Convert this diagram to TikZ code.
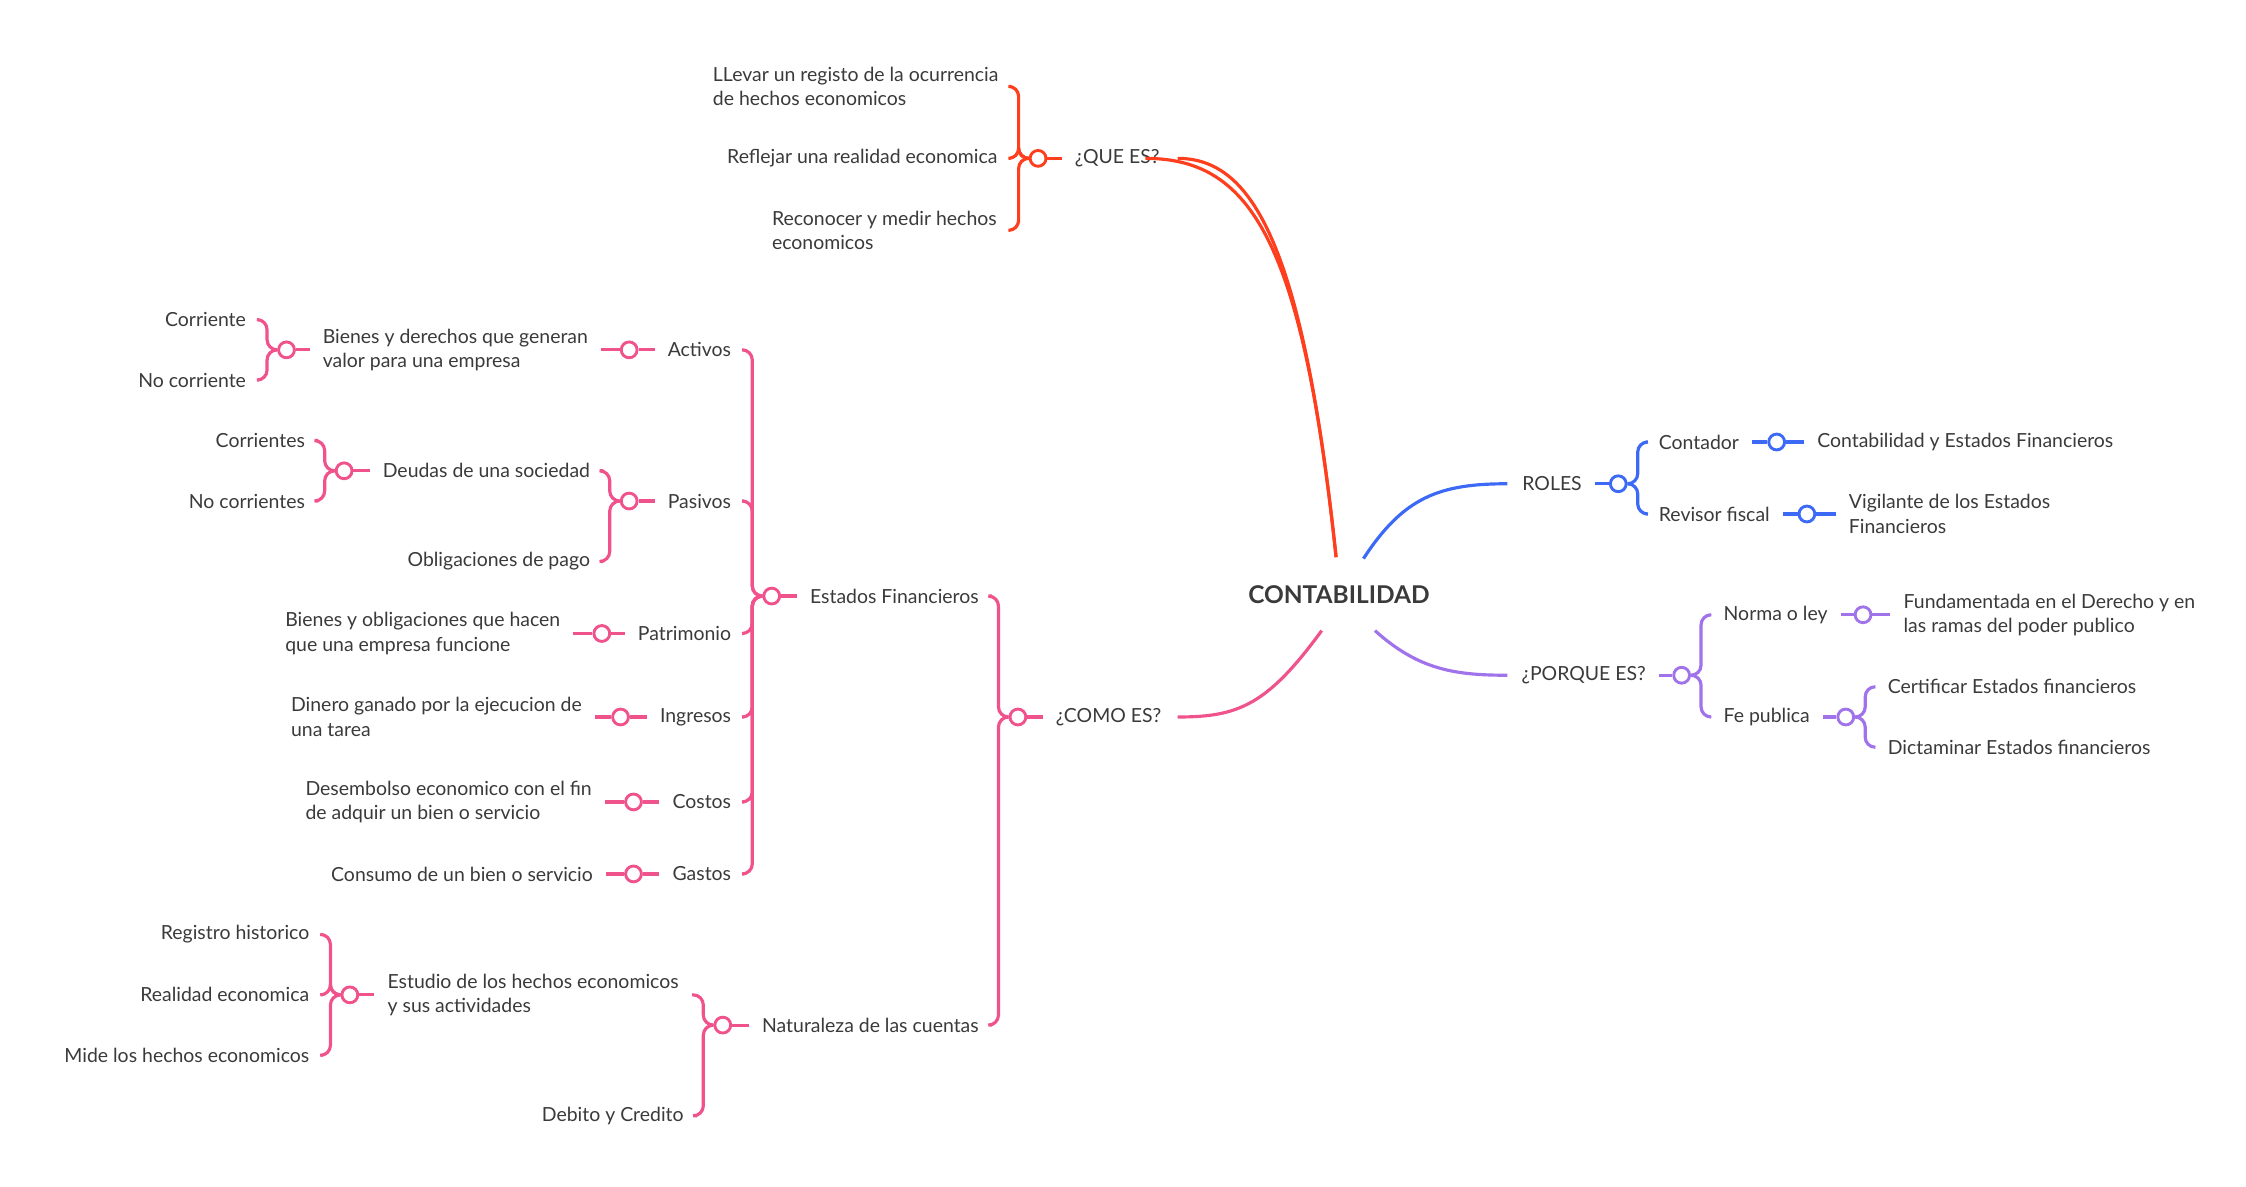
\documentclass[tikz,border=0pt]{standalone}
\usepackage{fontspec}
\setmainfont{Lato}
\definecolor{cr}{RGB}{255,62,30}
\definecolor{cp}{RGB}{240,82,140}
\definecolor{cb}{RGB}{60,105,245}
\definecolor{cu}{RGB}{160,115,235}
\definecolor{tx}{RGB}{58,58,58}
\newcommand\lbr[3]{\draw[#1,br] (#2.west) -- ++(-7,0) |- (#3.east);}
\newcommand\rbr[3]{\draw[#1,br] (#2.east) -- ++(7,0) |- (#3.west);}
\begin{document}
\begin{tikzpicture}[x=1pt,y=-1pt,
  t/.style={text=tx,inner sep=0pt,font=\fontsize{13.5}{17}\selectfont,align=left},
  L/.style={t,anchor=east},R/.style={t,anchor=west},
  dot/.style={circle,draw=#1,fill=white,line width=2pt,minimum size=11pt,inner sep=0pt},
  br/.style={line width=2.2pt,rounded corners=7pt,shorten >=9pt},
  ln/.style={draw=#1,line width=2.2pt},
  lk/.style={line width=2.2pt,shorten <=9pt}]
\useasboundingbox (0,0) rectangle (1560,824);
\node[t,font=\fontsize{17}{20}\selectfont\bfseries] (c) at (930,413) {CONTABILIDAD};
% red
\node[t] (qe) at (776,110) {¿QUE ES?};
\draw[ln=cr] (928,387) .. controls (905,170) and (870,110) .. ([xshift=-10]qe.east);
\draw[ln=cr] (928,387) .. controls (905,170) and (870,110) .. (818,110);
\node[dot=cr] (qc) at (721,110) {};
\draw[cr,lk] (qe.west) -- (qc.east);
\node[R] (q1) at (495,60) {LLevar un registo de la ocurrencia\\de hechos economicos};
\node[L] (q2) at (693,110) {Reflejar una realidad economica};
\node[R] (q3) at (536,160) {Reconocer y medir hechos\\economicos};
\foreach \c in {q1,q2,q3}{\lbr{cr}{qc}{\c}}
% blue
\node[t] (ro) at (1078,336) {ROLES};
\draw[ln=cb] (947,388) .. controls (975,345) and (1000,336) .. (1047,336);
\node[dot=cb] (rc) at (1124,336) {};
\draw[cb,lk] (ro.east) -- (rc.west);
\node[R] (r1) at (1152,307) {Contador};
\node[R] (r2) at (1152,357) {Revisor fiscal};
\foreach \c in {r1,r2}{\rbr{cb}{rc}{\c}}
\node[dot=cb] (r1c) at (1234,307) {};
\node[R] (r1a) at (1262,307) {Contabilidad y Estados Financieros};
\draw[cb,lk] (r1.east) -- (r1c.west); \draw[cb,lk,shorten <=0pt,shorten >=9pt] (r1c.east) -- (r1a.west);
\node[dot=cb] (r2c) at (1255,357) {};
\node[R] (r2a) at (1284,357) {Vigilante de los Estados\\Financieros};
\draw[cb,lk] (r2.east) -- (r2c.west); \draw[cb,lk,shorten <=0pt,shorten >=9pt] (r2c.east) -- (r2a.west);
% purple
\node[t] (pq) at (1100,469) {¿PORQUE ES?};
\draw[ln=cu] (955,438) .. controls (985,465) and (1010,469) .. (1047,469);
\node[dot=cu] (pc) at (1168,469) {};
\draw[cu,lk] (pq.east) -- (pc.west);
\node[R] (p1) at (1197,427) {Norma o ley};
\node[R] (p2) at (1197,498) {Fe publica};
\foreach \c in {p1,p2}{\rbr{cu}{pc}{\c}}
\node[dot=cu] (p1c) at (1294,427) {};
\node[R] (p1a) at (1322,427) {Fundamentada en el Derecho y en\\las ramas del poder publico};
\draw[cu,lk] (p1.east) -- (p1c.west); \draw[cu,lk,shorten <=0pt,shorten >=9pt] (p1c.east) -- (p1a.west);
\node[dot=cu] (p2c) at (1282,498) {};
\draw[cu,lk] (p2.east) -- (p2c.west);
\node[R] (p2a) at (1311,477) {Certificar Estados financieros};
\node[R] (p2b) at (1311,519) {Dictaminar Estados financieros};
\foreach \c in {p2a,p2b}{\rbr{cu}{p2c}{\c}}
% pink
\node[t] (co) at (770,498) {¿COMO ES?};
\draw[ln=cp] (918,438) .. controls (880,490) and (860,498) .. (818,498);
\node[dot=cp] (cc) at (707,498) {};
\draw[cp,lk] (co.west) -- (cc.east);
\node[L] (ef) at (680,414) {Estados Financieros};
\node[L] (na) at (680,712) {Naturaleza de las cuentas};
\foreach \c in {ef,na}{\lbr{cp}{cc}{\c}}
\node[dot=cp] (efc) at (536,414) {};
\draw[cp,lk] (ef.west) -- (efc.east);
\node[L] (a1) at (508,243) {Activos};
\node[L] (a2) at (508,348) {Pasivos};
\node[L] (a3) at (508,440) {Patrimonio};
\node[L] (a4) at (508,498) {Ingresos};
\node[L] (a5) at (508,557) {Costos};
\node[L] (a6) at (508,607) {Gastos};
\foreach \c in {a1,a2,a3,a4,a5,a6}{\lbr{cp}{efc}{\c}}
% activos
\node[dot=cp] (a1c) at (437,243) {};
\node[R] (a1a) at (224,243) {Bienes y derechos que generan\\valor para una empresa};
\draw[cp,lk] (a1.west) -- (a1c.east); \draw[cp,lk,shorten <=0pt,shorten >=9pt] (a1c.west) -- (a1a.east);
\node[dot=cp] (a1ac) at (199,243) {};
\draw[cp,lk] (a1a.west) -- (a1ac.east);
\node[L] (a1x) at (171,222) {Corriente};
\node[L] (a1y) at (171,264) {No corriente};
\foreach \c in {a1x,a1y}{\lbr{cp}{a1ac}{\c}}
% pasivos
\node[dot=cp] (a2c) at (437,348) {};
\draw[cp,lk] (a2.west) -- (a2c.east);
\node[L] (a2a) at (410,327) {Deudas de una sociedad};
\node[L] (a2b) at (410,390) {Obligaciones de pago};
\foreach \c in {a2a,a2b}{\lbr{cp}{a2c}{\c}}
\node[dot=cp] (a2ac) at (239,327) {};
\draw[cp,lk] (a2a.west) -- (a2ac.east);
\node[L] (a2x) at (212,306) {Corrientes};
\node[L] (a2y) at (212,348) {No corrientes};
\foreach \c in {a2x,a2y}{\lbr{cp}{a2ac}{\c}}
% others
\node[dot=cp] (a3c) at (418,440) {};
\node[R] (a3a) at (198,440) {Bienes y obligaciones que hacen\\que una empresa funcione};
\draw[cp,lk] (a3.west) -- (a3c.east); \draw[cp,lk,shorten <=0pt,shorten >=9pt] (a3c.west) -- (a3a.east);
\node[dot=cp] (a4c) at (431,498) {};
\node[R] (a4a) at (202,498) {Dinero ganado por la ejecucion de\\una tarea};
\draw[cp,lk] (a4.west) -- (a4c.east); \draw[cp,lk,shorten <=0pt,shorten >=9pt] (a4c.west) -- (a4a.east);
\node[dot=cp] (a5c) at (440,557) {};
\node[R] (a5a) at (212,557) {Desembolso economico con el fin\\de adquir un bien o servicio};
\draw[cp,lk] (a5.west) -- (a5c.east); \draw[cp,lk,shorten <=0pt,shorten >=9pt] (a5c.west) -- (a5a.east);
\node[dot=cp] (a6c) at (440,607) {};
\node[L] (a6a) at (412,607) {Consumo de un bien o servicio};
\draw[cp,lk] (a6.west) -- (a6c.east); \draw[cp,lk,shorten <=0pt,shorten >=9pt] (a6c.west) -- (a6a.east);
% naturaleza
\node[dot=cp] (nac) at (502,712) {};
\draw[cp,lk] (na.west) -- (nac.east);
\node[R] (n1) at (269,691) {Estudio de los hechos economicos\\y sus actividades};
\node[L] (n2) at (475,775) {Debito y Credito};
\foreach \c in {n1,n2}{\lbr{cp}{nac}{\c}}
\node[dot=cp] (n1c) at (243,691) {};
\draw[cp,lk] (n1.west) -- (n1c.east);
\node[L] (n1x) at (215,649) {Registro historico};
\node[L] (n1y) at (215,691) {Realidad economica};
\node[L] (n1z) at (215,733) {Mide los hechos economicos};
\foreach \c in {n1x,n1y,n1z}{\lbr{cp}{n1c}{\c}}
\end{tikzpicture}
\end{document}
